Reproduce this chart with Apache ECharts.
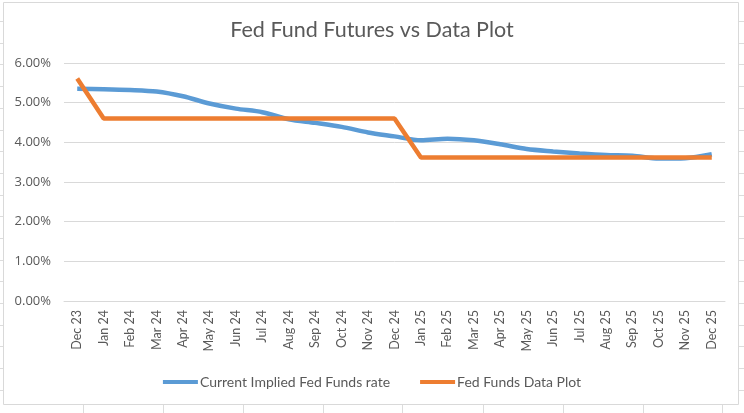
<!DOCTYPE html>
<html>
<head>
<meta charset="utf-8">
<script src="https://cdn.jsdelivr.net/npm/echarts@6/dist/echarts.min.js"></script>
<style>
html,body{margin:0;padding:0;background:#fff;}
#c{width:744px;height:413px;}
</style>
</head>
<body>
<div id="c"></div>
<script>
var categories = ["Dec 23","Jan 24","Feb 24","Mar 24","Apr 24","May 24","Jun 24","Jul 24","Aug 24","Sep 24","Oct 24","Nov 24","Dec 24","Jan 25","Feb 25","Mar 25","Apr 25","May 25","Jun 25","Jul 25","Aug 25","Sep 25","Oct 25","Nov 25","Dec 25"];
var impliedRate = [5.35,5.34,5.32,5.28,5.16,4.98,4.85,4.76,4.58,4.49,4.39,4.25,4.15,4.05,4.09,4.05,3.95,3.83,3.77,3.72,3.68,3.66,3.59,3.60,3.70];
var dataPlot = [5.61,4.60,4.60,4.60,4.60,4.60,4.60,4.60,4.60,4.60,4.60,4.60,4.60,3.62,3.62,3.62,3.62,3.62,3.62,3.62,3.62,3.62,3.62,3.62,3.62];
var yTicks = [0,1,2,3,4,5,6];

var chart = echarts.init(document.getElementById('c'), null, {renderer:'canvas'});

var deco = [];
deco.push({type:'rect', shape:{x:3.5,y:2.5,width:735,height:402}, style:{fill:'none', stroke:'#d9d9d9', lineWidth:1}, silent:true});
[83,163,243,323,402,483,563,643,722].forEach(function(x){
  deco.push({type:'line', shape:{x1:x+0.5,y1:405,x2:x+0.5,y2:413}, style:{stroke:'#dcdcdc', lineWidth:1}, silent:true});
});
for (var yy = 21; yy < 405; yy += 21.7) {
  deco.push({type:'line', shape:{x1:0,y1:Math.round(yy)+0.5,x2:3,y2:Math.round(yy)+0.5}, style:{stroke:'#dcdcdc', lineWidth:1}, silent:true});
  deco.push({type:'line', shape:{x1:739,y1:Math.round(yy)+0.5,x2:744,y2:Math.round(yy)+0.5}, style:{stroke:'#dcdcdc', lineWidth:1}, silent:true});
}

chart.setOption({
  animation:false,
  backgroundColor:'#fff',
  title:{
    text:'Fed Fund Futures vs Data Plot',
    left:'center', top:14,
    textStyle:{fontFamily:'Lato', fontSize:21.5, fontWeight:'normal', color:'#595959'}
  },
  graphic: deco,
  legend:{
    data:['Current Implied Fed Funds rate','Fed Funds Data Plot'],
    left:'center', top:370,
    icon:'rect', itemWidth:35, itemHeight:4, itemGap:30,
    textStyle:{fontFamily:'Lato', fontSize:14, color:'#595959', padding:[0,0,0,-3]}
  },
  grid:{left:64, right:19, top:63, bottom:112, containLabel:false},
  xAxis:{
    type:'category',
    data:categories,
    boundaryGap:true,
    axisLine:{show:true, lineStyle:{color:'#d9d9d9'}},
    axisTick:{show:false},
    axisLabel:{rotate:90, fontFamily:'Lato', fontSize:12.5, color:'#595959', margin:9, interval:0}
  },
  yAxis:{
    type:'value',
    min:yTicks[0], max:yTicks[yTicks.length-1], interval:1,
    axisLine:{show:false}, axisTick:{show:false},
    splitLine:{lineStyle:{color:'#d9d9d9'}},
    axisLabel:{fontFamily:'Open Sans', fontSize:13, color:'#595959', margin:13,
      formatter:function(v){return v.toFixed(2)+'%';}}
  },
  series:[
    {name:'Current Implied Fed Funds rate', type:'line', data:impliedRate, smooth:0.3,
     symbol:'none', lineStyle:{width:4.5, color:'#5B9BD5'}, itemStyle:{color:'#5B9BD5'}},
    {name:'Fed Funds Data Plot', type:'line', data:dataPlot,
     symbol:'none', lineStyle:{width:4.5, color:'#ED7D31'}, itemStyle:{color:'#ED7D31'}}
  ]
});
</script>
</body>
</html>
